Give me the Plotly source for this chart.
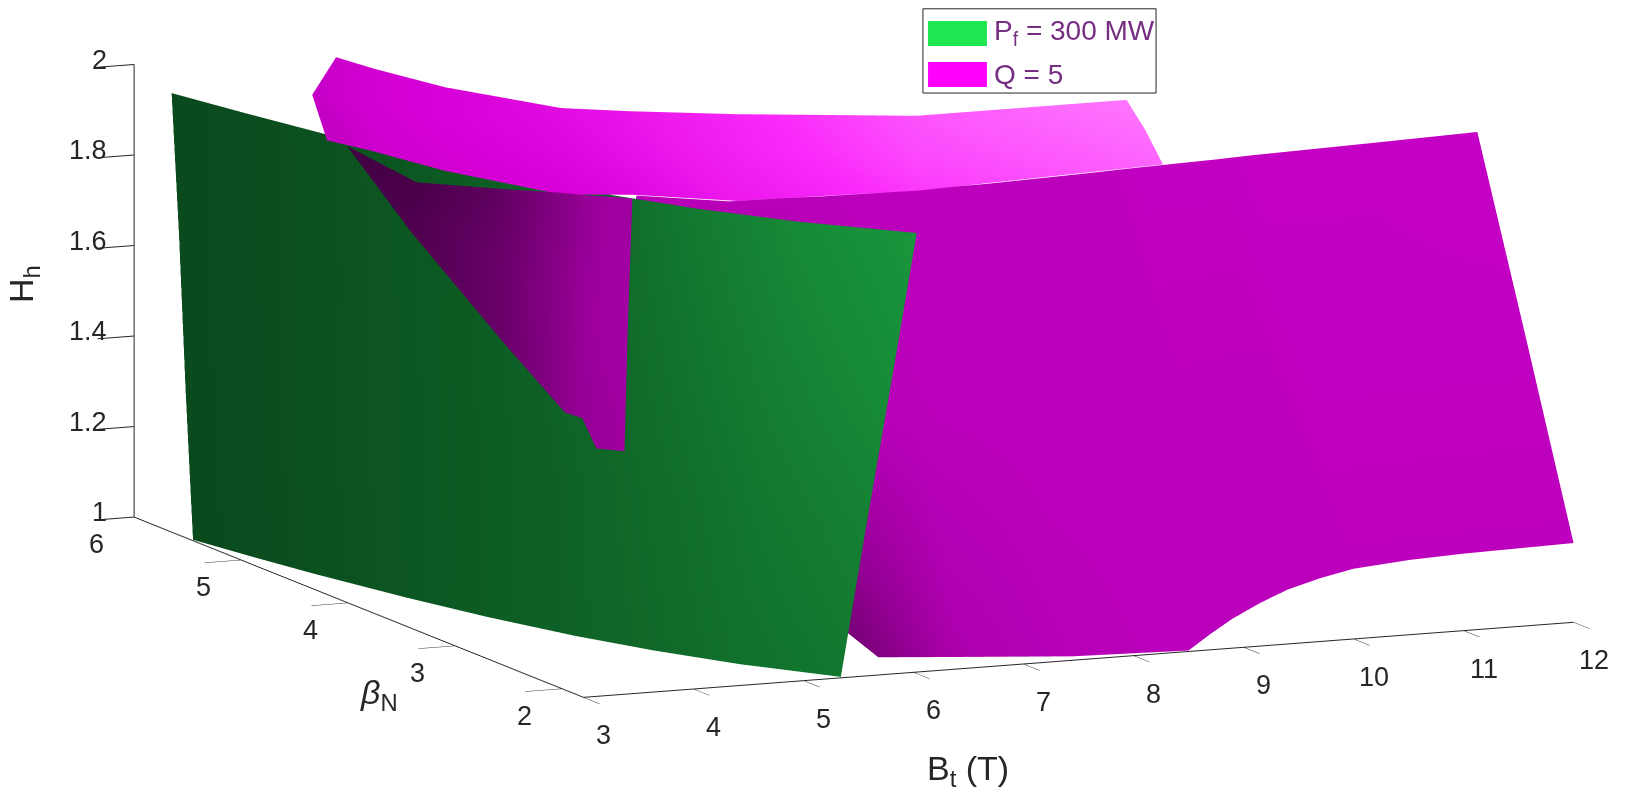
import plotly.graph_objects as go

# ---- Pf = 300 MW surface (nearly vertical wall): Bt read at each (betaN, Hh)
pf_h = [1.002, 1.33, 1.66, 1.97]
pf_beta = [
    [1.801, 2.2, 2.6, 3.0, 3.5, 4.0, 4.6, 5.0, 5.45],
    [1.801, 2.2, 2.6, 3.0, 3.5, 4.0, 4.6, 5.1, 5.52],
    [1.801, 2.2, 2.6, 3.0, 3.5, 4.0, 4.6, 5.15, 5.58],
    [1.801, 2.2, 2.6, 3.0, 3.5, 4.0, 4.6, 5.15, 5.65],
]
pf_bt = [
    [5.34, 4.81, 4.41, 4.09, 3.78, 3.53, 3.28, 3.14, 3.00],
    [5.57, 4.99, 4.55, 4.21, 3.86, 3.59, 3.32, 3.14, 3.00],
    [5.81, 5.17, 4.69, 4.32, 3.95, 3.66, 3.37, 3.16, 3.00],
    [6.03, 5.34, 4.82, 4.42, 4.02, 3.70, 3.40, 3.18, 3.00],
]
pf_shade = [
    [0.62, 0.55, 0.45, 0.38, 0.30, 0.22, 0.15, 0.11, 0.08],
    [0.72, 0.62, 0.50, 0.40, 0.31, 0.23, 0.16, 0.11, 0.08],
    [0.85, 0.72, 0.58, 0.45, 0.33, 0.24, 0.16, 0.11, 0.08],
    [0.95, 0.82, 0.66, 0.50, 0.36, 0.25, 0.17, 0.11, 0.08],
]

# ---- Q = 5 surface, front face (rows: bottom, middle, top)
q_face_bt = [4.6, 5.2, 5.7, 6.0, 6.6, 7.5, 8.5, 8.7, 8.9, 9.15, 9.4, 9.7, 10.0, 10.5, 11.0, 12.0]
q_face_beta = [
    [3.30, 3.00, 2.50, 2.13, 2.02, 1.86, 1.801, 1.801, 1.801, 1.801, 1.801, 1.801, 1.801, 1.801, 1.801, 1.801],
    [3.10, 2.85, 2.59, 2.40, 2.33, 2.26, 2.26, 2.27, 2.28, 2.285, 2.29, 2.29, 2.29, 2.285, 2.28, 2.25],
    [2.95, 2.70, 2.68, 2.66, 2.64, 2.66, 2.72, 2.735, 2.75, 2.765, 2.78, 2.78, 2.78, 2.765, 2.75, 2.70],
]
q_face_h = [
    [1.50, 1.30, 1.10, 1.002, 1.002, 1.002, 1.002, 1.035, 1.065, 1.095, 1.12, 1.14, 1.155, 1.165, 1.17, 1.175],
    [1.74, 1.635, 1.535, 1.485, 1.485, 1.485, 1.485, 1.50, 1.52, 1.535, 1.545, 1.555, 1.565, 1.575, 1.58, 1.59],
    [1.97, 1.97, 1.97, 1.97, 1.97, 1.97, 1.97, 1.97, 1.97, 1.97, 1.97, 1.972, 1.975, 1.98, 1.985, 1.998],
]
q_face_shade = [
    [0.30, 0.30, 0.30, 0.40, 0.62, 0.68, 0.70, 0.70, 0.70, 0.70, 0.70, 0.70, 0.71, 0.71, 0.71, 0.71],
    [0.60, 0.60, 0.62, 0.66, 0.69, 0.70, 0.70, 0.70, 0.71, 0.71, 0.71, 0.71, 0.72, 0.72, 0.72, 0.72],
    [0.68, 0.68, 0.68, 0.69, 0.70, 0.71, 0.71, 0.71, 0.72, 0.72, 0.72, 0.72, 0.73, 0.73, 0.73, 0.74],
]

# ---- Q = 5 surface, upper band near Hh = 2 (rows: front, middle, back)
q_band_bt = [
    [3.283, 3.423, 3.603, 4.043, 4.54, 5.26, 6.84, 9.22],
    [3.87, 4.19, 4.37, 4.84, 5.22, 5.97, 7.43, 9.58],
    [4.70, 4.77, 4.96, 5.45, 5.90, 6.67, 8.02, 9.93],
]
q_band_beta = [
    [4.488, 4.218, 3.718, 3.078, 2.93, 2.70, 2.63, 2.78],
    [5.23, 4.99, 4.50, 3.90, 3.64, 3.43, 3.24, 3.32],
    [5.86, 5.58, 5.11, 4.53, 4.37, 4.15, 3.85, 3.85],
]
q_band_h = [
    [1.9705, 1.9705, 1.9705, 1.9705, 1.975, 1.97, 1.97, 1.97],
    [1.99, 1.99, 1.99, 1.99, 1.99, 1.99, 1.99, 1.99],
    [1.998, 1.998, 1.998, 1.998, 1.998, 1.998, 1.998, 1.998],
]
q_band_shade = [
    [0.72, 0.76, 0.78, 0.80, 0.82, 0.86, 0.92, 0.97],
    [0.74, 0.78, 0.80, 0.82, 0.84, 0.88, 0.94, 0.98],
    [0.76, 0.78, 0.80, 0.83, 0.85, 0.89, 0.95, 0.99],
]

# ---- Q = 5 surface, part in front of the Pf wall (rows: bottom, middle, top)
q_notch_bt = [
    [4.165, 4.045, 4.00, 3.93, 3.72, 3.43, 3.245],
    [4.23, 4.115, 4.05, 3.96, 3.725, 3.445, 3.245],
    [4.30, 4.185, 4.095, 3.99, 3.733, 3.457, 3.245],
]
q_notch_beta = [
    [2.615, 2.755, 2.84, 2.93, 3.29, 3.85, 4.26],
    [2.65, 2.78, 2.87, 2.98, 3.335, 3.84, 4.26],
    [2.68, 2.80, 2.90, 3.03, 3.38, 3.83, 4.26],
]
q_notch_h = [
    [1.445, 1.44, 1.50, 1.505, 1.63, 1.825, 1.98],
    [1.72, 1.715, 1.74, 1.74, 1.795, 1.88, 1.98],
    [1.995, 1.99, 1.985, 1.98, 1.961, 1.937, 1.98],
]
q_notch_shade = [
    [0.55, 0.52, 0.50, 0.45, 0.30, 0.18, 0.12],
    [0.57, 0.56, 0.52, 0.45, 0.30, 0.17, 0.12],
    [0.56, 0.55, 0.50, 0.42, 0.25, 0.15, 0.12],
]

bt_ticks = [3, 4, 5, 6, 7, 8, 9, 10, 11, 12]
beta_ticks = [2, 3, 4, 5, 6]
h_ticks = [1, 1.2, 1.4, 1.6, 1.8, 2]
h_labels = ["1", "1.2", "1.4", "1.6", "1.8", "2"]

green_scale = [[0, "rgb(9,68,26)"], [0.5, "rgb(16,108,42)"], [1, "rgb(26,155,62)"]]
magenta_scale = [
    [0, "rgb(40,0,40)"], [0.25, "rgb(95,0,95)"], [0.5, "rgb(150,0,150)"],
    [0.7, "rgb(187,0,187)"], [0.8, "rgb(215,0,215)"], [0.9, "rgb(250,40,250)"],
    [1, "rgb(255,125,255)"],
]
flat = dict(ambient=1.0, diffuse=0.0, specular=0.0, roughness=1.0, fresnel=0.0)

pf_z = [[h] * len(pf_beta[0]) for h in pf_h]
q_face_x = [q_face_bt] * 3


def patch(x, y, z, c, scale):
    return go.Surface(x=x, y=y, z=z, surfacecolor=c, colorscale=scale,
                      cmin=0, cmax=1, showscale=False, lighting=flat,
                      hoverinfo="skip")


fig = go.Figure([
    patch(pf_bt, pf_beta, pf_z, pf_shade, green_scale),
    patch(q_face_x, q_face_beta, q_face_h, q_face_shade, magenta_scale),
    patch(q_band_bt, q_band_beta, q_band_h, q_band_shade, magenta_scale),
    patch(q_notch_bt, q_notch_beta, q_notch_h, q_notch_shade, magenta_scale),
])

axis = dict(showgrid=False, zeroline=False, showbackground=False, showline=True,
            linecolor="#262626", linewidth=2, ticks="outside", ticklen=40,
            tickcolor="#262626", tickwidth=2, showticklabels=False,
            title=dict(text=""), showspikes=False)

# upright tick labels placed at the tick positions of the 3-D axes
# (the back edge sits a hair inside the betaN range so the labels are not culled)
beta_back = 5.995
tick_font = dict(family="Liberation Sans, Arial, sans-serif", size=27, color="#262626")
scene_labels = []
for v in bt_ticks:
    scene_labels.append(dict(x=v, y=1.8, z=1, text=str(v), showarrow=False,
                             xshift=20, yshift=-38, font=tick_font))
for v in beta_ticks:
    scene_labels.append(dict(x=3, y=min(v, beta_back), z=1, text=str(v),
                             showarrow=False, xshift=-38, yshift=-27, font=tick_font))
for v, t in zip(h_ticks, h_labels):
    scene_labels.append(dict(x=3, y=beta_back, z=v, text=t, showarrow=False,
                             xanchor="right", xshift=-26, yshift=5, font=tick_font))

# orthographic view: the box size is set through the aspect ratio
zoom = 2.73
d = 4.0
view = (-0.3926, -0.9031, 0.1744)
center = (-0.059, -0.0032, -0.1497)

fig.update_layout(
    width=1650, height=791,
    margin=dict(l=0, r=0, t=0, b=0),
    paper_bgcolor="white",
    showlegend=False,
    scene=dict(
        domain=dict(x=[0, 1], y=[0, 1]),
        xaxis=dict(axis, range=[3, 12], tickvals=bt_ticks),
        yaxis=dict(axis, range=[1.8, 6], tickvals=beta_ticks),
        zaxis=dict(axis, range=[1, 2], tickvals=h_ticks),
        aspectmode="manual",
        aspectratio=dict(x=zoom * 1, y=zoom * 1.044, z=zoom * 0.4257),
        camera=dict(
            projection=dict(type="orthographic"),
            up=dict(x=0, y=0, z=1),
            center=dict(x=center[0], y=center[1], z=center[2]),
            eye=dict(x=center[0] + d * view[0], y=center[1] + d * view[1],
                     z=center[2] + d * view[2]),
        ),
        annotations=scene_labels,
    ),
)

title_font = dict(family="Liberation Sans, Arial, sans-serif", size=34, color="#262626")
fig.add_annotation(text="H<sub>h</sub>", x=0.0091, y=0.651, xref="paper", yref="paper",
                   xanchor="center", yanchor="middle", textangle=-90,
                   showarrow=False, font=title_font)
fig.add_annotation(text="<i>β</i><sub>N</sub>", x=0.2248, y=0.1327, xref="paper",
                   yref="paper", xanchor="center", yanchor="middle",
                   showarrow=False, font=title_font)
fig.add_annotation(text="B<sub>t</sub> (T)", x=0.5818, y=0.036, xref="paper",
                   yref="paper", xanchor="center", yanchor="middle",
                   showarrow=False, font=title_font)

# legend drawn as paper shapes
legend_font = dict(family="Liberation Sans, Arial, sans-serif", size=28, color="rgb(118,46,130)")
fig.add_shape(type="rect", xref="paper", yref="paper", x0=0.5545, x1=0.6958,
              y0=0.8925, y1=0.999, line=dict(color="#262626", width=1),
              fillcolor="white")
fig.add_shape(type="rect", xref="paper", yref="paper", x0=0.5576, x1=0.5933,
              y0=0.952, y1=0.9836, line=dict(width=0), fillcolor="rgb(30,230,80)")
fig.add_shape(type="rect", xref="paper", yref="paper", x0=0.5576, x1=0.5933,
              y0=0.9001, y1=0.9317, line=dict(width=0), fillcolor="rgb(255,0,255)")
fig.add_annotation(text="P<sub>f</sub> = 300 MW", x=0.5964, y=0.9695, xref="paper",
                   yref="paper", xanchor="left", yanchor="middle",
                   showarrow=False, font=legend_font)
fig.add_annotation(text="Q = 5", x=0.5964, y=0.9159, xref="paper", yref="paper",
                   xanchor="left", yanchor="middle", showarrow=False,
                   font=legend_font)

fig.write_html("out.html")
